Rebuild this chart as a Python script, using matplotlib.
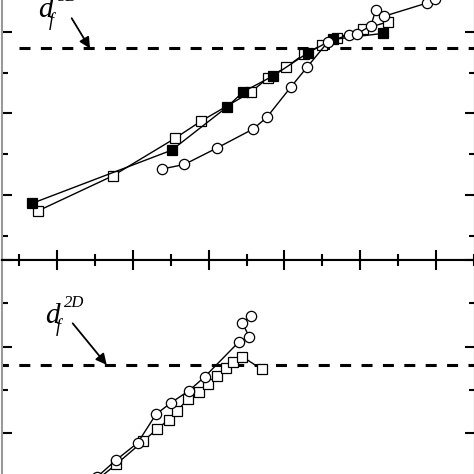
import numpy as np
import matplotlib
matplotlib.use("Agg")
import matplotlib.pyplot as plt
from matplotlib.ticker import MultipleLocator, NullFormatter

# ---------------------------
# Data
# ---------------------------
# upper panel (3D)
x_fill_3d = [0.670, 2.511, 3.238, 3.457, 3.853, 4.316, 4.638, 5.307]
y_fill_3d = [2.180, 2.310, 2.415, 2.453, 2.492, 2.549, 2.581, 2.596]

x_sq_3d = [0.741, 1.732, 2.555, 2.898, 3.555, 3.787, 4.021, 4.259, 4.493, 4.691, 5.042, 5.365]
y_sq_3d = [2.161, 2.247, 2.339, 2.381, 2.452, 2.487, 2.513, 2.545, 2.567, 2.585, 2.606, 2.624]

x_circ_3d = [2.387, 2.678, 3.106, 3.589, 3.766, 4.083, 4.303, 4.580, 4.853, 4.955,
             5.144, 5.206, 5.320, 5.880, 5.989]
y_circ_3d = [2.264, 2.275, 2.315, 2.362, 2.390, 2.464, 2.514, 2.576, 2.592, 2.594,
             2.615, 2.653, 2.638, 2.670, 2.680]

df_3d = 2.559

# lower panel (2D)
x_circ_2d = [1.524, 1.775, 2.062, 2.304, 2.506, 2.736, 2.945, 3.404, 3.536, 3.443, 3.561]
y_circ_2d = [1.499, 1.538, 1.578, 1.644, 1.671, 1.698, 1.730, 1.812, 1.823, 1.855, 1.870]

x_sq_2d = [1.524, 1.775, 2.136, 2.313, 2.469, 2.585, 2.723, 2.878, 2.995, 3.106,
           3.229, 3.325, 3.446, 3.698]
y_sq_2d = [1.492, 1.528, 1.582, 1.609, 1.631, 1.652, 1.679, 1.696, 1.715, 1.732,
           1.750, 1.764, 1.777, 1.748]

df_2d = 1.758

# ---------------------------
# Layout (the picture is a crop of a bigger figure)
# ---------------------------
W = 474.0
def fy(py):
    return 1 - py / W

x_left_px, x_right_px = 1.5, 475.0
xlim = (1 + (x_left_px - 57.3) / 75.7, 1 + (x_right_px - 57.3) / 75.7)

def top_y(py):
    return 2.6 - 0.2 * (py - 31.7) / 81.7

def bot_y(py):
    return 1.8 - 0.2 * (py - 346.7) / 86.6

fig = plt.figure(figsize=(4.74, 4.74), dpi=100)
ax1 = fig.add_axes([x_left_px / W, fy(260), (x_right_px - x_left_px) / W, 290 / W])
ax2 = fig.add_axes([x_left_px / W, fy(520), (x_right_px - x_left_px) / W, 260 / W])
ax1.set_ylim(top_y(260), top_y(-30))
ax2.set_ylim(bot_y(520), bot_y(260))

sq = dict(marker='s', ms=6.6, mec='k', mfc='white', mew=0.9, color='k', lw=1.0)
circ = dict(marker='o', ms=7.4, mec='k', mfc='white', mew=0.9, color='k', lw=1.0)
fill = dict(marker='s', ms=6.6, mec='k', mfc='k', mew=0.9, color='k', lw=1.0)

ax1.plot(x_sq_3d, y_sq_3d, **sq)
ax1.plot(x_fill_3d, y_fill_3d, **fill)
ax1.plot(x_circ_3d, y_circ_3d, **circ)
ax2.plot(x_sq_2d, y_sq_2d, **sq)
ax2.plot(x_circ_2d, y_circ_2d, **circ)

dash = (0, (3.6, 3.4))
ax1.axhline(df_3d, xmin=(19 - x_left_px) / (x_right_px - x_left_px), color='k', lw=2.2, ls=dash, zorder=0)
ax2.axhline(df_2d, color='k', lw=2.2, ls=(1.5, (3.6, 3.4)), zorder=0)

arrow = dict(arrowstyle='-|>', color='k', lw=1.3, mutation_scale=16, shrinkA=0, shrinkB=0)
ax1.annotate('', xy=(1.432, df_3d), xytext=(1.190, 2.633), arrowprops=arrow)
ax2.annotate('', xy=(1.653, df_2d), xytext=(1.203, 1.854), arrowprops=arrow)


def df_label(ax, x, y, sup):
    # d, subscript f and superscript placed by hand (pixel offsets -> points)
    font = dict(family='Liberation Serif', style='italic', ha='left', va='baseline',
                textcoords='offset points', xycoords='data')
    ax.annotate('d', (x, y), xytext=(0, 0), fontsize=21, **font)
    ax.annotate('f', (x, y), xytext=(11 * 0.72, -9 * 0.72), fontsize=13, **font)
    ax.annotate(sup, (x, y), xytext=(19 * 0.72, 16 * 0.72), fontsize=12, **font)


df_label(ax1, 0.745, 2.636, '3D')
df_label(ax2, 0.838, 1.855, '2D')

for ax in (ax1, ax2):
    ax.set_xlim(*xlim)
    ax.xaxis.set_major_locator(MultipleLocator(1))
    ax.xaxis.set_minor_locator(MultipleLocator(0.5))
    ax.yaxis.set_major_locator(MultipleLocator(0.2))
    ax.yaxis.set_minor_locator(MultipleLocator(0.1))
    ax.xaxis.set_major_formatter(NullFormatter())
    ax.yaxis.set_major_formatter(NullFormatter())
    ax.tick_params(which='major', direction='in', length=7.2, width=1.5)
    ax.tick_params(which='minor', direction='in', length=4.0, width=1.5)
    ax.tick_params(which='both', left=True, right=True)
    for s in ax.spines.values():
        s.set_linewidth(1.5)
    ax.spines['left'].set_color('0.6')

ax1.tick_params(which='both', bottom=True, top=False)
ax2.tick_params(which='both', bottom=False, top=True)

fig.savefig('out.png', dpi=100)
